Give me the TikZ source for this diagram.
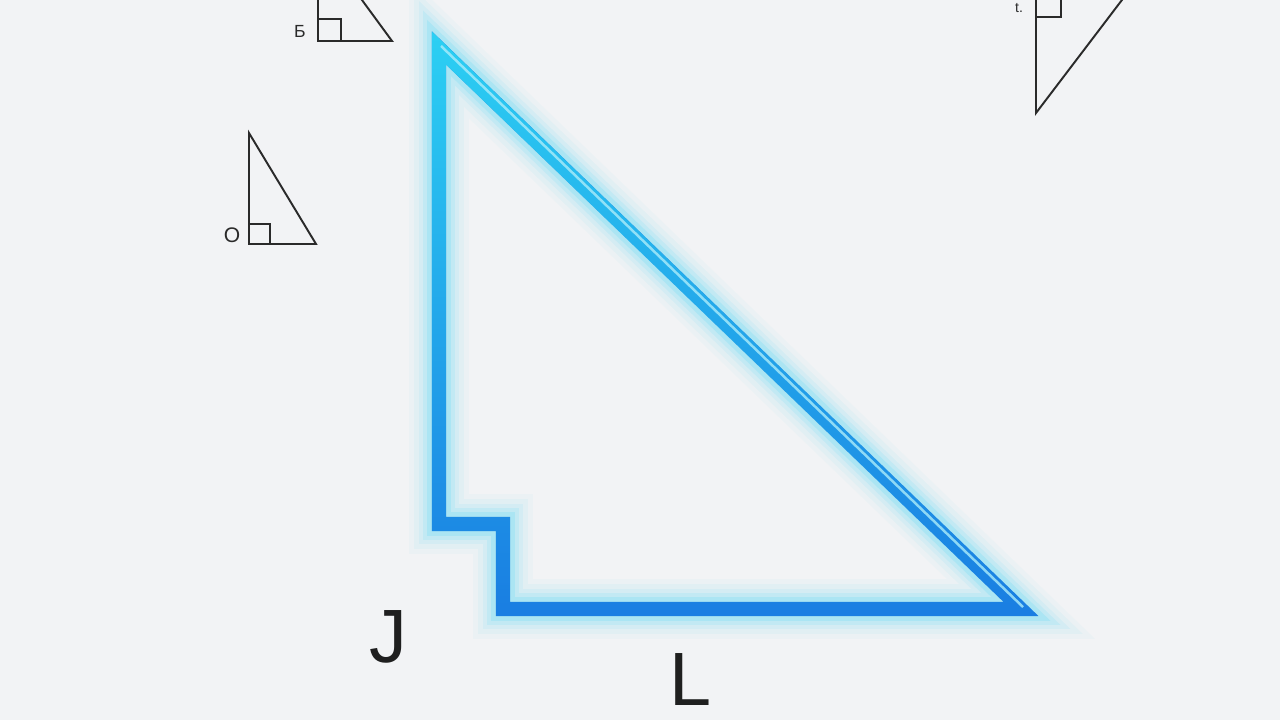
\documentclass[tikz,border=0pt]{standalone}
\usepackage{fontspec}
\setmainfont{Liberation Sans}
\usepackage{tikz}
\usetikzlibrary{fadings}

\definecolor{bgpaper}{HTML}{F2F3F5}
\definecolor{edgeblue}{HTML}{1A7EE2}
\definecolor{glowcyan}{HTML}{2CCFF3}
\definecolor{inkgray}{HTML}{2A2A2A}

\tikzset{
	sketch/.style={draw=inkgray, line width=1.1pt, line join=miter},
	sketchlabel/.style={text=inkgray, inner sep=0pt, font=\fontsize{10}{10}\selectfont},
	biglabel/.style={text=black!88, inner sep=0pt, font=\fontsize{43}{43}\selectfont},
}

\begin{document}
\begin{tikzpicture}[x=0.02cm, y=-0.02cm]
		\fill[bgpaper] (0, 0) rectangle (1280, 720);
		\useasboundingbox (0, 0) rectangle (1280, 720);
		\clip (0, 0) rectangle (1280, 720);

		% big stepped triangle
		\coordinate (apex) at (439, 48);
		\coordinate (stepA) at (439, 524);
		\coordinate (stepB) at (503, 524);
		\coordinate (stepC) at (503, 609);
		\coordinate (tip) at (1021, 609);

		\foreach \w/\o in {60/0.03, 50/0.05, 40/0.07, 32/0.10, 24/0.15} {
			\draw[glowcyan, line width=\w*0.567pt, opacity=\o, line join=miter]
				(apex) -- (stepA) -- (stepB) -- (stepC) -- (tip) -- cycle;
		}
		\draw[edgeblue, line width=8pt, line join=miter]
			(apex) -- (stepA) -- (stepB) -- (stepC) -- (tip) -- cycle;
		\draw[glowcyan, line width=8pt, line join=miter, path fading=south]
			(apex) -- (stepA) -- (stepB) -- (stepC) -- (tip) -- cycle;
		\draw[glowcyan!40!white, line width=1.4pt, opacity=0.8]
			([shift={(2,-2)}]apex) -- ([shift={(2,-2)}]tip);

		% small sketches
		\draw[sketch] (318, -60) -- (318, 41) -- (392, 41) -- cycle;
		\draw[sketch] (318, 19) rectangle (341, 41);
		\node[sketchlabel] (tagB) at (300, 31) {Б};

		\draw[sketch] (249, 133) -- (249, 244) -- (316, 244) -- cycle;
		\draw[sketch] (249, 224) rectangle (270, 244);
		\node[sketchlabel, font=\fontsize{12}{12}\selectfont] (tagO) at (232, 235) {O};

		\draw[sketch] (1036, -8) -- (1036, 113) -- (1128, -8) -- cycle;
		\draw[sketch] (1036, -8) rectangle (1061, 17);
		\node[sketchlabel, font=\fontsize{8}{8}\selectfont] (tagT) at (1019, 8) {t.};

		% vertex letters
		\node[biglabel] (labJ) at (388, 637) {J};
		\node[biglabel] (labL) at (690, 679) {L};
	\end{tikzpicture}
\end{document}
